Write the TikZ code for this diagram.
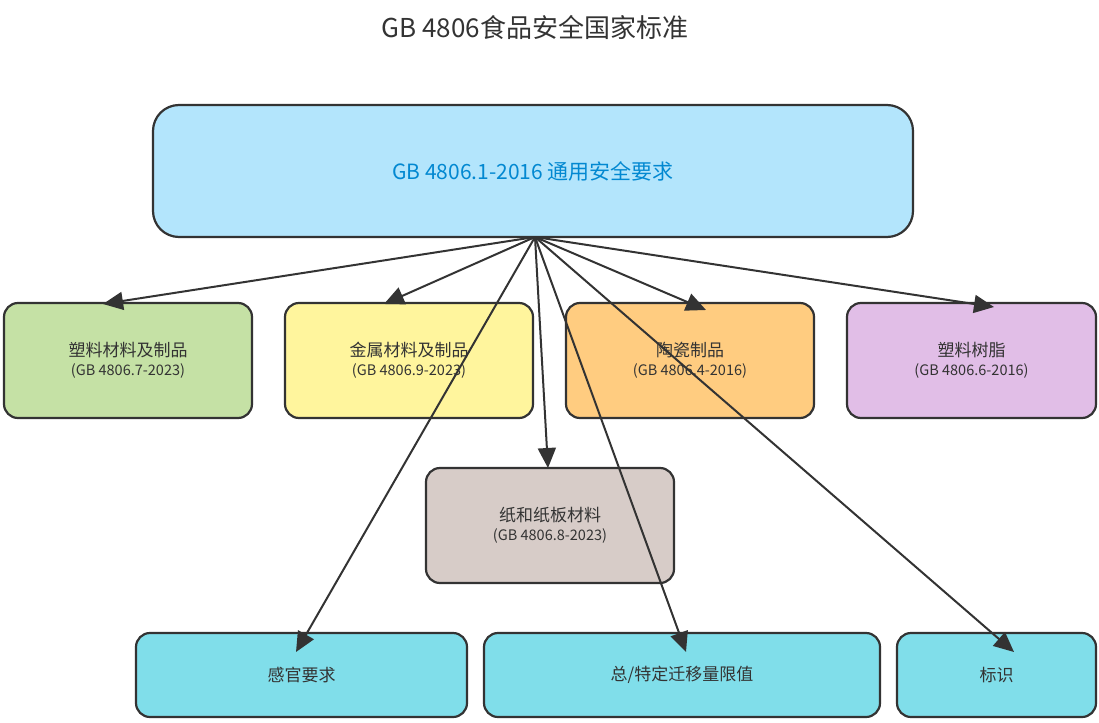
\documentclass[tikz,border=0pt]{standalone}
\usepackage{fontspec}
\setmainfont{Noto Sans CJK SC}
\usetikzlibrary{arrows.meta}
\newcommand\subtxt{\fontsize{14.5}{18}\selectfont}
\definecolor{ln}{HTML}{333333}
\definecolor{cTop}{HTML}{B3E5FC}
\definecolor{tTop}{HTML}{0288D1}
\definecolor{cG}{HTML}{C5E1A5}
\definecolor{cY}{HTML}{FFF59D}
\definecolor{cO}{HTML}{FFCC80}
\definecolor{cP}{HTML}{E1BEE7}
\definecolor{cB}{HTML}{D7CCC8}
\definecolor{cC}{HTML}{80DEEA}
\begin{document}
\begin{tikzpicture}[x=1pt,y=-1pt,
 box/.style={draw=ln,line width=2.2pt,rounded corners=14pt,align=center,text=ln,font=\fontsize{17}{21}\selectfont,inner sep=0pt},
 arr/.style={draw=ln,line width=2pt,-{Triangle[length=20pt,width=18pt]}}]
\useasboundingbox (0,0) rectangle (1099,722);
\node[text=ln,font=\fontsize{26}{30}\selectfont] (title) at (535,27) {GB 4806食品安全国家标准};
\node[box,fill=cTop,text=tTop,minimum width=760pt,minimum height=132pt,rounded corners=26pt,font=\fontsize{21}{25}\selectfont] (top) at (533,171) {GB 4806.1-2016 通用安全要求};
\node[box,fill=cG,minimum width=248pt,minimum height=115pt] (pl) at (128,360.5) {塑料材料及制品\\[-2pt]{\subtxt (GB 4806.7-2023)}};
\node[box,fill=cY,minimum width=248pt,minimum height=115pt] (me) at (409,360.5) {金属材料及制品\\[-2pt]{\subtxt (GB 4806.9-2023)}};
\node[box,fill=cO,minimum width=248pt,minimum height=115pt] (ce) at (690,360.5) {陶瓷制品\\[-2pt]{\subtxt (GB 4806.4-2016)}};
\node[box,fill=cP,minimum width=249pt,minimum height=115pt] (re) at (971.5,360.5) {塑料树脂\\[-2pt]{\subtxt (GB 4806.6-2016)}};
\node[box,fill=cB,minimum width=248pt,minimum height=115pt] (pa) at (550,525.5) {纸和纸板材料\\[-2pt]{\subtxt (GB 4806.8-2023)}};
\node[box,fill=cC,minimum width=331pt,minimum height=84pt] (se) at (301.5,675) {感官要求};
\node[box,fill=cC,minimum width=396pt,minimum height=84pt] (mi) at (682,675) {总/特定迁移量限值};
\node[box,fill=cC,minimum width=199pt,minimum height=84pt] (la) at (996.5,675) {标识};
\coordinate (o) at (535,237);
\coordinate (e1) at (103,304);
\coordinate (e2) at (384,304);
\coordinate (e3) at (706,310);
\coordinate (e4) at (994,307);
\coordinate (e5) at (548,468);
\coordinate (e6) at (296,652);
\coordinate (e7) at (686,652);
\coordinate (e8) at (1014,652);
\foreach \e in {e1,e2,e3,e4,e5,e6,e7,e8} \draw[arr] (o) -- (\e);
\end{tikzpicture}
\end{document}
